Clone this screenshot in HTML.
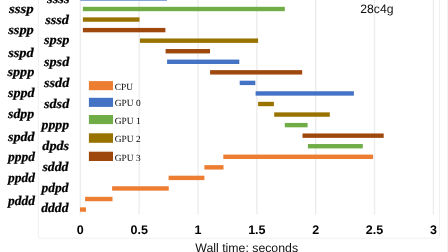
<!DOCTYPE html><html><head><meta charset="utf-8"><style>html,body{margin:0;padding:0;background:#fff;width:448px;height:252px;overflow:hidden}svg{display:block}text{text-rendering:geometricPrecision}.lab{font-family:"Liberation Serif",serif;font-weight:bold;font-style:italic;font-size:13.2px;fill:#000;stroke:#000;stroke-width:0.2px}.leg{font-family:"Liberation Serif",serif;font-size:9.4px;fill:#000}.tick{font-family:"Liberation Sans",Arial,sans-serif;font-weight:bold;font-size:12.5px;fill:#000}.ttl{font-family:"Liberation Sans",Arial,sans-serif;font-size:12.3px;fill:#111}</style></head><body>
<svg width="448" height="252" viewBox="0 0 448 252">
<rect x="38.3" y="-5" width="401.2" height="243.2" rx="1.5" fill="none" stroke="#f0f0f0" stroke-width="1"/>
<line x1="447.5" y1="0" x2="447.5" y2="252" stroke="#f1f3f7" stroke-width="1"/>
<line x1="80.30" y1="0" x2="80.30" y2="214.5" stroke="#ececec" stroke-width="1.3"/>
<line x1="139.15" y1="0" x2="139.15" y2="214.5" stroke="#ececec" stroke-width="1.3"/>
<line x1="198.00" y1="0" x2="198.00" y2="214.5" stroke="#ececec" stroke-width="1.3"/>
<line x1="256.85" y1="0" x2="256.85" y2="214.5" stroke="#ececec" stroke-width="1.3"/>
<line x1="315.70" y1="0" x2="315.70" y2="214.5" stroke="#ececec" stroke-width="1.3"/>
<line x1="374.55" y1="0" x2="374.55" y2="214.5" stroke="#ececec" stroke-width="1.3"/>
<line x1="433.40" y1="0" x2="433.40" y2="214.5" stroke="#ececec" stroke-width="1.3"/>
<rect x="80.3" y="-3.76" width="86.70" height="4.4" fill="#4472C4"/>
<rect x="82.9" y="6.80" width="201.90" height="4.4" fill="#70AD47"/>
<rect x="82.9" y="17.36" width="56.60" height="4.4" fill="#997300"/>
<rect x="82.9" y="27.91" width="82.50" height="4.4" fill="#9E480E"/>
<rect x="139.9" y="38.47" width="118.20" height="4.4" fill="#997300"/>
<rect x="165.6" y="49.02" width="44.40" height="4.4" fill="#9E480E"/>
<rect x="167.1" y="59.58" width="72.20" height="4.4" fill="#4472C4"/>
<rect x="210.1" y="70.14" width="92.10" height="4.4" fill="#9E480E"/>
<rect x="239.7" y="80.69" width="15.60" height="4.4" fill="#4472C4"/>
<rect x="255.6" y="91.25" width="98.30" height="4.4" fill="#4472C4"/>
<rect x="258.1" y="101.80" width="15.80" height="4.4" fill="#997300"/>
<rect x="274.2" y="112.36" width="55.60" height="4.4" fill="#997300"/>
<rect x="284.8" y="122.92" width="22.80" height="4.4" fill="#70AD47"/>
<rect x="302.5" y="133.47" width="81.20" height="4.4" fill="#9E480E"/>
<rect x="307.9" y="144.03" width="54.90" height="4.4" fill="#70AD47"/>
<rect x="223.3" y="154.58" width="149.80" height="4.4" fill="#ED7D31"/>
<rect x="204.4" y="165.14" width="19.10" height="4.4" fill="#ED7D31"/>
<rect x="168.6" y="175.70" width="35.80" height="4.4" fill="#ED7D31"/>
<rect x="112.1" y="186.25" width="56.65" height="4.4" fill="#ED7D31"/>
<rect x="85.1" y="196.81" width="27.40" height="4.4" fill="#ED7D31"/>
<rect x="80.0" y="207.36" width="6.00" height="4.4" fill="#ED7D31"/>
<text class="lab" transform="translate(8.98 13.40) scale(1.1283 1)">sssp</text>
<text class="lab" transform="translate(8.13 33.90) scale(1.0960 1)">sspp</text>
<text class="lab" transform="translate(8.13 56.50) scale(1.0915 1)">sspd</text>
<text class="lab" transform="translate(7.40 76.10) scale(1.0780 1)">sppp</text>
<text class="lab" transform="translate(7.99 97.30) scale(1.0683 1)">sppd</text>
<text class="lab" transform="translate(7.98 118.30) scale(1.0564 1)">sdpp</text>
<text class="lab" transform="translate(7.99 140.50) scale(1.0683 1)">spdd</text>
<text class="lab" transform="translate(7.98 161.40) scale(1.0201 1)">pppd</text>
<text class="lab" transform="translate(7.98 181.80) scale(1.0201 1)">ppdd</text>
<text class="lab" transform="translate(7.98 204.50) scale(1.0201 1)">pddd</text>
<text class="lab" transform="translate(46.98 2.90) scale(1.1027 1)">ssss</text>
<text class="lab" transform="translate(45.13 23.80) scale(1.0874 1)">sssd</text>
<text class="lab" transform="translate(43.98 44.10) scale(1.0861 1)">spsp</text>
<text class="lab" transform="translate(43.99 65.70) scale(1.0772 1)">spsd</text>
<text class="lab" transform="translate(43.99 86.50) scale(1.0772 1)">ssdd</text>
<text class="lab" transform="translate(43.99 107.70) scale(1.0772 1)">sdsd</text>
<text class="lab" transform="translate(41.62 129.00) scale(1.0423 1)">pppp</text>
<text class="lab" transform="translate(42.30 149.50) scale(1.0759 1)">dpds</text>
<text class="lab" transform="translate(42.40 171.10) scale(1.0493 1)">sddd</text>
<text class="lab" transform="translate(41.57 192.30) scale(1.0241 1)">pdpd</text>
<text class="lab" transform="translate(41.13 212.30) scale(1.0395 1)">dddd</text>
<rect x="88.9" y="81.1" width="24.1" height="9.1" fill="#ED7D31"/>
<text class="leg" x="114.8" y="89.8">CPU</text>
<rect x="88.9" y="97.8" width="24.1" height="9.1" fill="#4472C4"/>
<text class="leg" x="114.8" y="106.1">GPU 0</text>
<rect x="88.9" y="115.0" width="24.1" height="9.1" fill="#70AD47"/>
<text class="leg" x="114.8" y="123.5">GPU 1</text>
<rect x="88.9" y="133.3" width="24.1" height="9.5" fill="#997300"/>
<text class="leg" x="114.8" y="142.1">GPU 2</text>
<rect x="88.9" y="151.7" width="24.1" height="9.3" fill="#9E480E"/>
<text class="leg" x="114.8" y="160.5">GPU 3</text>
<text class="tick" x="80.30" y="233.5" text-anchor="middle">0</text>
<text class="tick" x="139.15" y="233.5" text-anchor="middle">0.5</text>
<text class="tick" x="198.00" y="233.5" text-anchor="middle">1</text>
<text class="tick" x="256.85" y="233.5" text-anchor="middle">1.5</text>
<text class="tick" x="315.70" y="233.5" text-anchor="middle">2</text>
<text class="tick" x="374.55" y="233.5" text-anchor="middle">2.5</text>
<text class="tick" x="433.40" y="233.5" text-anchor="middle">3</text>
<text class="ttl" x="195.3" y="251.5">Wall time: seconds</text>
<text class="ttl" x="360.3" y="13.4" style="font-size:12.2px">28c4g</text>
</svg></body></html>
